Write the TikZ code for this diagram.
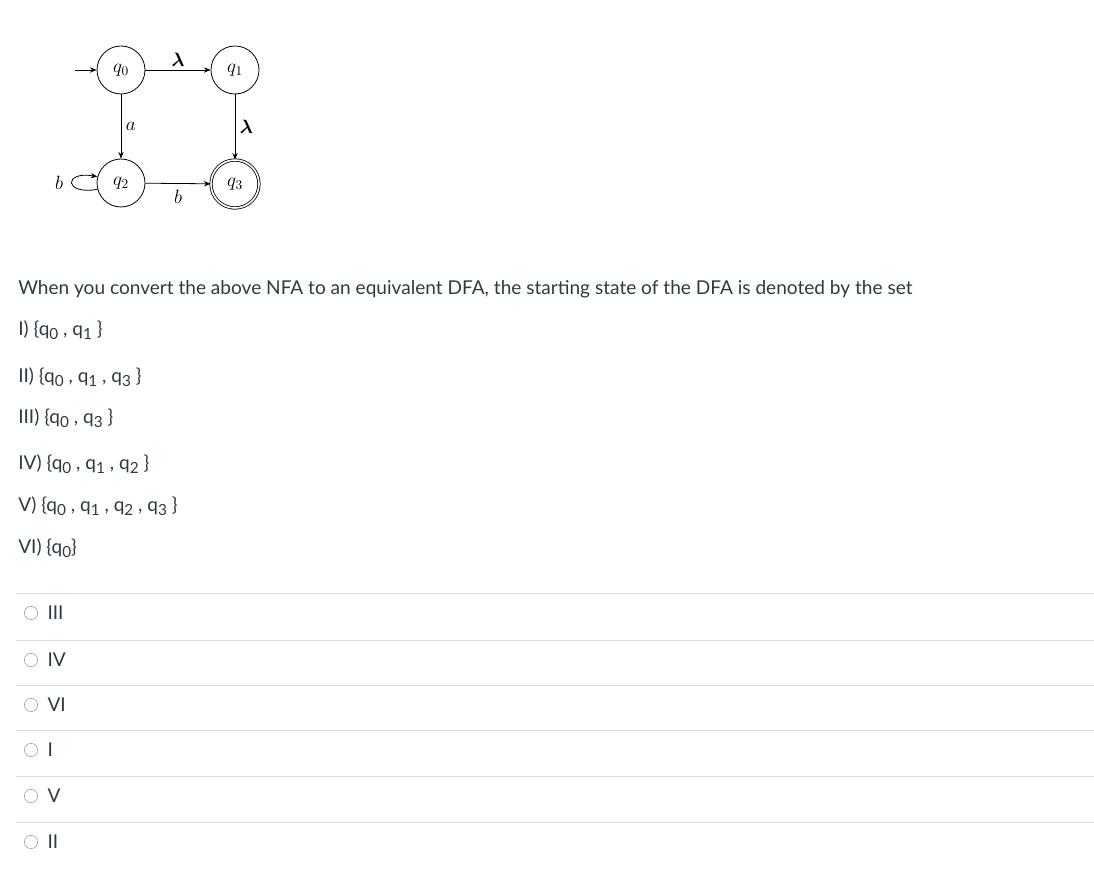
\documentclass[tikz,border=0pt]{standalone}
\usepackage{fontspec}
\usepackage{amsmath}
\setmainfont{Lato}
\usetikzlibrary{arrows.meta}
\definecolor{textgray}{HTML}{2D3B45}
\definecolor{rulegray}{HTML}{DDDDDD}
\newcommand{\sub}[1]{\raisebox{-0.35ex}{\fontsize{11.5pt}{11.5pt}\selectfont #1}}

\begin{document}
\begin{tikzpicture}[x=0.75pt,y=-0.75pt,>={Stealth[length=5pt,width=4pt]}]
\useasboundingbox (0,0) rectangle (1094,873);
\tikzset{state/.style={draw, circle, semithick, minimum size=36pt, inner sep=0pt, font=\Large},
         accept/.style={state, double, double distance=1.2pt},
         lbl/.style={font=\Large},
         question/.style={anchor=west, inner sep=0pt, text=textgray, font=\fontsize{14.3pt}{17pt}\selectfont},
         radio/.style={draw=gray!80, circle, thin, minimum size=10pt, inner sep=0pt},
         rowline/.style={draw=rulegray, thin}}

% automaton
\node[state] (q0) at (121,70) {$q_0$};
\node[state] (q1) at (235,70) {$q_1$};
\node[state] (q2) at (121,183) {$q_2$};
\node[accept] (q3) at (235,184) {$q_3$};
\coordinate (start) at (75,70);

\draw[semithick,->] (start) -- (q0);
\draw[semithick,->] (q0) -- node[lbl, above, inner sep=2pt] {$\boldsymbol{\lambda}$} (q1);
\draw[semithick,->] (q0) -- node[lbl, right] {$a$} (q2);
\draw[semithick,->] (q1) -- node[lbl, right] {$\boldsymbol{\lambda}$} (q3);
\draw[semithick,->] (q2) -- node[lbl, below, inner sep=5pt] {$b$} (q3);
\draw[semithick,->] (q2.195) to[out=190, in=170, looseness=7] node[lbl, left, xshift=-3pt] {$b$} (q2.165);

% question text
\node[question] (stem) at (18,289) {When you convert the above NFA to an equivalent DFA, the starting state of the DFA is denoted by the set};
\node[question] (opt1) at (18,330) {I) \{q\sub{0} , q\sub{1} \}};
\node[question] (opt2) at (18,377) {II) \{q\sub{0} , q\sub{1} , q\sub{3} \}};
\node[question] (opt3) at (18,418) {III) \{q\sub{0} , q\sub{3} \}};
\node[question] (opt4) at (18,464) {IV) \{q\sub{0} , q\sub{1} , q\sub{2} \}};
\node[question] (opt5) at (18,506) {V) \{q\sub{0} , q\sub{1} , q\sub{2} , q\sub{3} \}};
\node[question] (opt6) at (18,548) {VI) \{q\sub{0}\}};

% answer rows
\foreach \y/\txt/\nm in {613/III/a, 660/IV/b, 705/VI/c, 750/I/d, 796/V/e, 842/II/f} {
  \draw[rowline] (16,\y-20) -- (1094,\y-20);
  \node[radio] (r\nm) at (31,\y) {};
  \node[question, right=7pt] (t\nm) at (r\nm.east) {\txt};
}
\end{tikzpicture}
\end{document}
